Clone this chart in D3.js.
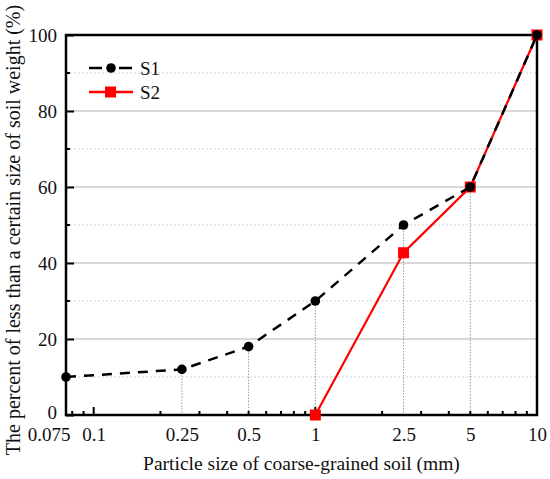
<!DOCTYPE html>
<html>
<head>
<meta charset="utf-8">
<script src="https://cdn.jsdelivr.net/npm/d3@7"></script>
<style>
  body { margin: 0; background: #fff; }
</style>
</head>
<body>
<svg id="chart" width="550" height="479"></svg>
<script>
const s1Size = [0.075, 0.25, 0.5, 1, 2.5, 5, 10];
const s1Pass = [10, 12, 18, 30, 50, 60, 100];
const s2Size = [1, 2.5, 5, 10];
const s2Pass = [0, 42.7, 60, 100];
const xTickValues = [0.075, 0.1, 0.25, 0.5, 1, 2.5, 5, 10];
const xMinorTicks = [0.08, 0.09, 0.2, 0.3, 0.4, 0.5, 0.6, 0.7, 0.8, 0.9, 2, 3, 4, 5, 6, 7, 8, 9];
const yMajorTicks = [0, 20, 40, 60, 80, 100];
const yMinorTicks = [10, 30, 50, 70, 90];
const seriesNames = ["S1", "S2"];

const FONT = "'Liberation Serif', 'Times New Roman', serif";

const svg = d3.select('#chart');
const margin = { top: 35, right: 13, bottom: 64, left: 66 };
const width = +svg.attr("width") - margin.left - margin.right;
const height = +svg.attr("height") - margin.top - margin.bottom;

const x = d3.scaleLog()
        .domain([0.075, 10])
        .range([0, width]);

const y = d3.scaleLinear()
        .domain([0, 100])
        .range([height, 0]);

const g = svg.append("g")
        .attr("transform", "translate(" + margin.left + "," + margin.top + ")");

// horizontal grid: solid at major, dotted at minor
g.selectAll(".grid-major")
        .data(yMajorTicks.filter(d => d > 0 && d < 100))
        .enter().append("line")
        .attr("x1", 0).attr("x2", width)
        .attr("y1", d => y(d)).attr("y2", d => y(d))
        .attr("stroke", "#cbcbcb").attr("stroke-width", 1.5);

g.selectAll(".grid-minor")
        .data(yMinorTicks)
        .enter().append("line")
        .attr("x1", 0).attr("x2", width)
        .attr("y1", d => y(d)).attr("y2", d => y(d))
        .attr("stroke", "#d4d4d4").attr("stroke-width", 1)
        .attr("stroke-dasharray", "2,2");

const s1 = s1Size.map((d, i) => ({ x: d, y: s1Pass[i] }));
const s2 = s2Size.map((d, i) => ({ x: d, y: s2Pass[i] }));

// drop lines from S1 points
g.selectAll(".drop")
        .data(s1.filter(d => d.x > 0.1 && d.x < 10))
        .enter().append("line")
        .attr("x1", d => x(d.x)).attr("x2", d => x(d.x))
        .attr("y1", d => y(d.y)).attr("y2", height)
        .attr("stroke", "#999").attr("stroke-width", 1)
        .attr("stroke-dasharray", "1.5,1.5");

// axes
const xAxis = g.append("g")
        .attr("class", "x-axis")
        .attr("transform", "translate(0," + height + ")")
        .call(d3.axisBottom(x).tickValues(xTickValues).tickFormat(d => d).tickSize(0).tickPadding(13));

xAxis.selectAll(".tick text")
        .attr("dx", d => d === 0.075 ? -17.5 : 0);

g.append("g")
        .attr("transform", "translate(0," + height + ")")
        .selectAll("line")
        .data(xMinorTicks)
        .enter().append("line")
        .attr("x1", d => x(d)).attr("x2", d => x(d))
        .attr("y1", 0).attr("y2", -4)
        .attr("stroke", "#000").attr("stroke-width", 2);

g.append("g")
        .attr("transform", "translate(0," + height + ")")
        .selectAll("line")
        .data([0.1, 1, 10])
        .enter().append("line")
        .attr("x1", d => x(d)).attr("x2", d => x(d))
        .attr("y1", 0).attr("y2", -8)
        .attr("stroke", "#000").attr("stroke-width", 2);

const yAxis = g.append("g")
        .attr("class", "y-axis")
        .call(d3.axisLeft(y).tickValues(yMajorTicks).tickSize(-8).tickPadding(9));

yAxis.selectAll(".tick text")
        .attr("y", d => d === 0 ? -3 : 0);

g.append("g")
        .selectAll("line")
        .data(yMinorTicks)
        .enter().append("line")
        .attr("x1", 0).attr("x2", 4)
        .attr("y1", d => y(d)).attr("y2", d => y(d))
        .attr("stroke", "#000").attr("stroke-width", 2);

[xAxis, yAxis].forEach(a => {
    a.attr("font-family", FONT).attr("font-size", 19);
    a.select(".domain").remove();
    a.selectAll(".tick line").attr("stroke", "#000").attr("stroke-width", 2);
    a.selectAll("text").attr("fill", "#111");
});

// frame
g.append("rect")
        .attr("width", width).attr("height", height)
        .attr("fill", "none").attr("stroke", "#000").attr("stroke-width", 2.5);

// S2 line
const lineS2 = d3.line().x(d => x(d.x)).y(d => y(d.y));
g.append("path")
        .datum(s2)
        .attr("d", lineS2)
        .attr("fill", "none").attr("stroke", "#ff0000").attr("stroke-width", 2.2);

g.selectAll(".sq")
        .data(s2)
        .enter().append("rect")
        .attr("x", d => x(d.x) - 5.5).attr("y", d => y(d.y) - 5.5)
        .attr("width", 11).attr("height", 11)
        .attr("fill", "#ff0000");

// S1 line
const lineS1 = d3.line().x(d => x(d.x)).y(d => y(d.y));
g.append("path")
        .datum(s1)
        .attr("d", lineS1)
        .attr("fill", "none").attr("stroke", "#000").attr("stroke-width", 2.5)
        .attr("stroke-dasharray", "10,8");

g.selectAll(".dot")
        .data(s1)
        .enter().append("circle")
        .attr("cx", d => x(d.x)).attr("cy", d => y(d.y))
        .attr("r", 4.8)
        .attr("fill", "#000");

// legend
const legend = g.append("g").attr("transform", "translate(23,33)");
seriesNames.forEach((name, i) => {
    const row = legend.append("g").attr("transform", "translate(0," + (i * 24) + ")");
    if (i === 0) {
        row.append("line").attr("x1", 0).attr("x2", 13).attr("stroke", "#000").attr("stroke-width", 2.5);
        row.append("line").attr("x1", 30).attr("x2", 43).attr("stroke", "#000").attr("stroke-width", 2.5);
        row.append("circle").attr("cx", 22).attr("r", 4.8).attr("fill", "#000");
    } else {
        row.append("line").attr("x1", 0).attr("x2", 44).attr("stroke", "#ff0000").attr("stroke-width", 2.5);
        row.append("rect").attr("x", 16).attr("y", -5.5).attr("width", 11).attr("height", 11).attr("fill", "#ff0000");
    }
    row.append("text").attr("x", 51).attr("y", 7)
        .attr("font-family", FONT).attr("font-size", 19).attr("fill", "#111")
        .text(name);
});

// axis titles
svg.append("text")
        .attr("x", margin.left + width / 2)
        .attr("y", 470)
        .attr("text-anchor", "middle")
        .attr("font-family", FONT).attr("font-size", 19.5).attr("fill", "#111")
        .text("Particle size of coarse-grained soil (mm)");

svg.append("text")
        .attr("transform", "translate(20,230) rotate(-90)")
        .attr("text-anchor", "middle")
        .attr("font-family", FONT).attr("font-size", 20).attr("fill", "#111")
        .text("The percent of less than a certain size of soil weight (%)");
</script>
</body>
</html>
